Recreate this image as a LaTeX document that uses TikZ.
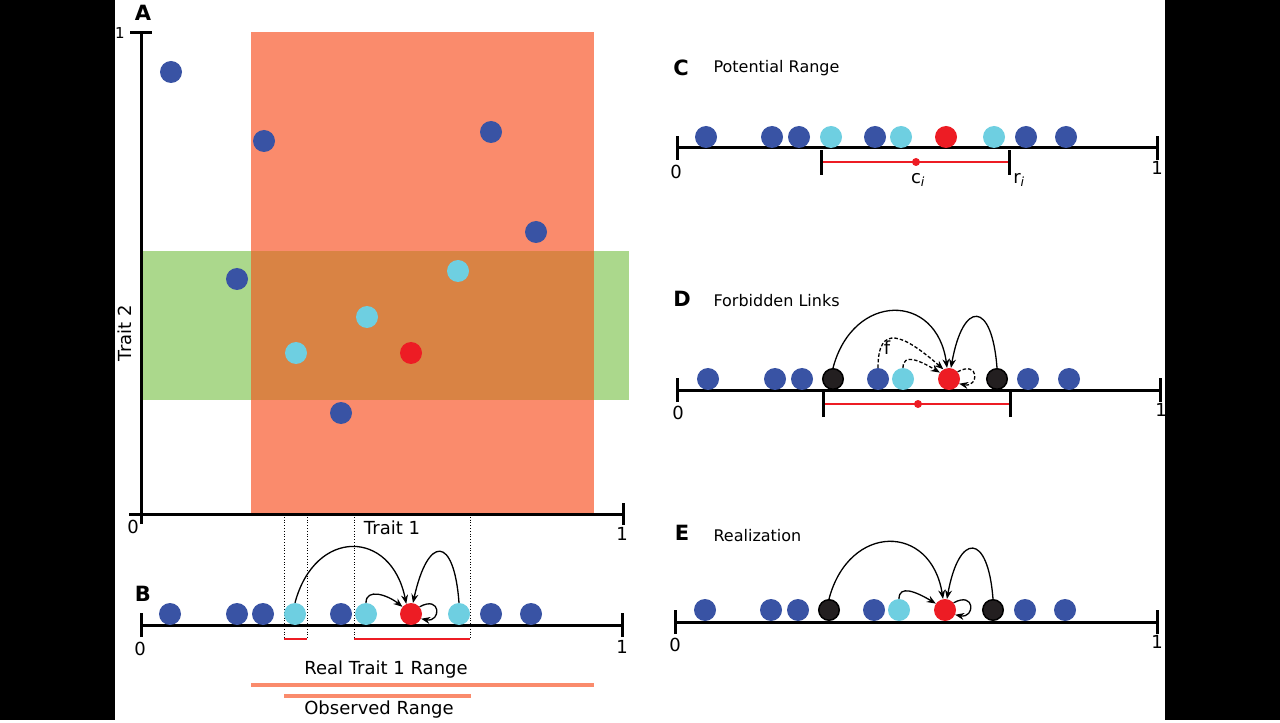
\documentclass[tikz,border=0pt]{standalone}
\usepackage{fontspec}
\setmainfont{DejaVu Sans}
\usetikzlibrary{arrows.meta}

\definecolor{spblue}{RGB}{57,83,164}
\definecolor{spcyan}{RGB}{110,207,225}
\definecolor{spred}{RGB}{237,28,36}
\definecolor{spblack}{RGB}{35,31,32}
\definecolor{realrange}{RGB}{250,139,108}
\definecolor{trtwo}{RGB}{171,216,140}
\definecolor{both}{RGB}{217,131,68}

\begin{document}
\begin{tikzpicture}[x=1pt,y=1pt,
	sp/.style={circle,inner sep=0pt,minimum size=22pt},
	bluesp/.style={sp,fill=spblue},
	cyansp/.style={sp,fill=spcyan},
	redsp/.style={sp,fill=spred},
	blacksp/.style={sp,fill=spblack,draw=black,line width=1.5pt,minimum size=20.5pt},
	axis/.style={black,line width=3pt},
	link/.style={line width=1.3pt,-{Stealth[length=9pt,width=7pt,inset=3pt]}},
	flink/.style={link,dash pattern=on 3.5pt off 2pt},
	lab/.style={font=\fontsize{18}{21}\selectfont},
	panel/.style={font=\fontsize{21}{23}\selectfont\bfseries},
	title/.style={anchor=west,font=\fontsize{16}{19}\selectfont}]
\fill[black] (0,0) rectangle (1280,720);
\fill[white] (115,0) rectangle (1165,720);

\fill[trtwo] (141,320) rectangle (629,469);
\fill[realrange] (251,206) rectangle (594,688);
\fill[both] (251,320) rectangle (594,469);
\draw[axis] (141,196) -- (141,687);
\draw[axis] (130,687) -- (152,687);
\draw[axis] (129,206) -- (623,206);
\draw[axis] (623,195) -- (623,217);
\node[panel] (lA) at (143,707) {A};
\node[lab,font=\fontsize{15}{17}\selectfont] (ay1) at (120,687) {1};
\node[lab] (ax0) at (133,193) {0};
\node[lab] (ax1) at (622,186) {1};
\node[lab] (trone) at (392,192) {Trait 1};
\node[lab,rotate=90] (trtwolab) at (125,387) {Trait 2};
\node[bluesp] (a1) at (171,648) {};
\node[bluesp] (a2) at (264,579) {};
\node[bluesp] (a3) at (491,588) {};
\node[bluesp] (a4) at (536,488) {};
\node[bluesp] (a5) at (237,441) {};
\node[bluesp] (a6) at (341,307) {};
\node[cyansp] (a7) at (458,449) {};
\node[cyansp] (a8) at (367,403) {};
\node[cyansp] (a9) at (296,367) {};
\node[redsp] (a10) at (411,367) {};

\draw[black,line width=0.8pt,dotted] (284,206) -- (284,81);
\draw[black,line width=0.8pt,dotted] (307,206) -- (307,81);
\draw[black,line width=0.8pt,dotted] (354,206) -- (354,81);
\draw[black,line width=0.8pt,dotted] (470,206) -- (470,81);
\draw[spred,line width=2.5pt] (284,81) -- (307,81);
\draw[spred,line width=2.5pt] (354,81) -- (470,81);
\draw[axis] (141,95) -- (622,95);
\draw[axis] (141,83) -- (141,107);
\draw[axis] (622,83) -- (622,107);
\node[panel] (lB) at (143,126) {B};
\node[lab] (bx0) at (140,71) {0};
\node[lab] (bx1) at (622,73) {1};
\node[bluesp] (b1) at (170,106) {};
\node[bluesp] (b2) at (237,106) {};
\node[bluesp] (b3) at (263,106) {};
\node[cyansp] (b4) at (295,106) {};
\node[bluesp] (b5) at (341,106) {};
\node[cyansp] (b6) at (366,106) {};
\node[redsp] (b7) at (411,106) {};
\node[cyansp] (b8) at (459,106) {};
\node[bluesp] (b9) at (491,106) {};
\node[bluesp] (b10) at (531,106) {};
\draw[link] (b4.north) .. controls +(20,75) and +(-15,75) .. (b7.115);
\draw[link] (b6.north) .. controls +(0,15) and +(-15,12) .. (b7.140);
\draw[link] (b8.north) .. controls +(-5,68) and +(15,68) .. (b7.80);
\draw[link] (b7.40) .. controls +(22,12) and +(20,-4) .. (b7.-25);
\draw[realrange,line width=4pt] (251,35) -- (594,35);
\draw[realrange,line width=4pt] (284,24) -- (471,24);
\node[lab] (realtxt) at (386,50) {Real Trait 1 Range};
\node[lab] (obstxt) at (379,10) {Observed Range};

\node[panel] (lC) at (681,652) {C};
\node[title] (ctitle) at (710,652) {Potential Range};
\draw[axis] (677,572) -- (1157,572);
\draw[axis] (677,560) -- (677,584);
\draw[axis] (1157,560) -- (1157,584);
\node[lab] (cx0) at (676,548) {0};
\node[lab] (cx1) at (1157,552) {1};
\node[bluesp] (c1) at (706,583) {};
\node[bluesp] (c2) at (772,583) {};
\node[bluesp] (c3) at (799,583) {};
\node[cyansp] (c4) at (831,583) {};
\node[bluesp] (c5) at (875,583) {};
\node[cyansp] (c6) at (901,583) {};
\node[redsp] (c7) at (946,583) {};
\node[cyansp] (c8) at (994,583) {};
\node[bluesp] (c9) at (1026,583) {};
\node[bluesp] (c10) at (1066,583) {};
\draw[spred,line width=2.2pt] (821,558) -- (1009,558);
\draw[axis] (821,545) -- (821,570);
\draw[axis] (1009,545) -- (1009,570);
\fill[spred] (916,558) circle (4);
\node[lab] (cci) at (918,540) {c\textsubscript{\itshape i}};
\node[lab] (cri) at (1019,540) {r\textsubscript{\itshape i}};

\node[panel] (lD) at (682,421) {D};
\node[title] (dtitle) at (710,419) {Forbidden Links};
\draw[axis] (677,330) -- (1160,330);
\draw[axis] (677,318) -- (677,342);
\draw[axis] (1160,318) -- (1160,342);
\node[lab] (dx0) at (678,307) {0};
\node[lab] (dx1) at (1161,310) {1};
\node[bluesp] (d1) at (708,341) {};
\node[bluesp] (d2) at (775,341) {};
\node[bluesp] (d3) at (802,341) {};
\node[blacksp] (d4) at (833,341) {};
\node[bluesp] (d5) at (878,341) {};
\node[cyansp] (d6) at (903,341) {};
\node[redsp] (d7) at (949,341) {};
\node[blacksp] (d8) at (997,341) {};
\node[bluesp] (d9) at (1028,341) {};
\node[bluesp] (d10) at (1069,341) {};
\draw[spred,line width=2.2pt] (823,316) -- (1010,316);
\draw[axis] (823,303) -- (823,328);
\draw[axis] (1010,303) -- (1010,328);
\fill[spred] (918,316) circle (4);
\draw[link] (d4.north) .. controls +(20,76) and +(-10,76) .. (d7.100);
\draw[link] (d8.north) .. controls +(-5,68) and +(12,68) .. (d7.80);
\draw[flink] (d5.north) .. controls +(0,45) and +(-40,35) .. (d7.120);
\draw[flink] (d6.north) .. controls +(0,15) and +(-20,12) .. (d7.145);
\draw[flink] (d7.40) .. controls +(22,12) and +(20,-4) .. (d7.-25);
\node[lab] (fl) at (887,372) {f};

\node[panel] (lE) at (682,187) {E};
\node[title] (etitle) at (710,184) {Realization};
\draw[axis] (675,98) -- (1157,98);
\draw[axis] (675,86) -- (675,110);
\draw[axis] (1157,86) -- (1157,110);
\node[lab] (ex0) at (675,75) {0};
\node[lab] (ex1) at (1157,78) {1};
\node[bluesp] (e1) at (705,110) {};
\node[bluesp] (e2) at (771,110) {};
\node[bluesp] (e3) at (798,110) {};
\node[blacksp] (e4) at (829,110) {};
\node[bluesp] (e5) at (874,110) {};
\node[cyansp] (e6) at (899,110) {};
\node[redsp] (e7) at (945,110) {};
\node[blacksp] (e8) at (993,110) {};
\node[bluesp] (e9) at (1025,110) {};
\node[bluesp] (e10) at (1065,110) {};
\draw[link] (e4.north) .. controls +(20,76) and +(-12,76) .. (e7.100);
\draw[link] (e8.north) .. controls +(-5,67) and +(12,67) .. (e7.80);
\draw[link] (e6.north) .. controls +(0,14) and +(-20,12) .. (e7.145);
\draw[link] (e7.40) .. controls +(22,12) and +(20,-4) .. (e7.-25);

\fill[black] (1165,0) rectangle (1280,720);
\end{tikzpicture}
\end{document}
